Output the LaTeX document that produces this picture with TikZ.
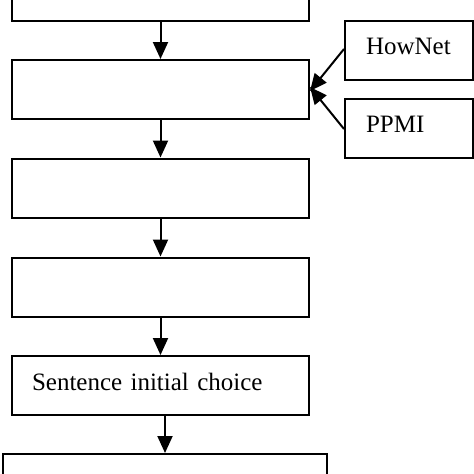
\documentclass[tikz,border=0pt]{standalone}
\usepackage{fontspec}
\setmainfont{Liberation Serif}
\usetikzlibrary{arrows.meta}
\begin{document}
\begin{tikzpicture}[x=1pt,y=-1pt,
  box/.style={draw=black,line width=2pt,fill=white,rectangle,inner sep=0pt,minimum height=59pt,text depth=8pt,font=\fontsize{25}{30}\selectfont},
  flow/.style={line width=2pt,-{Triangle[length=17pt,width=15pt]}}]
\useasboundingbox (0,0) rectangle (474,474);
\clip (0,0) rectangle (474,474);
\fill[white] (0,0) rectangle (474,474);
\node[box,minimum width=297pt] (top) at (160.5,-8.5) {};
\node[box,minimum width=297pt] (b2) at (160.5,89.5) {};
\node[box,minimum width=297pt] (b3) at (160.5,188) {};
\node[box,minimum width=297pt] (b4) at (160.5,287) {};
\node[box,text width=257pt,align=left,inner xsep=20pt] (b5) at (160.5,385.5) {Sentence initial choice};
\node[box,minimum width=324pt] (b6) at (165,483.5) {};
\node[box,text width=86pt,align=left,inner xsep=21pt] (hownet) at (409,50.5) {HowNet};
\node[box,text width=86pt,align=left,inner xsep=21pt] (ppmi) at (409,128.5) {PPMI};
\draw[flow] (top.south) -- (b2.north);
\draw[flow] (b2.south) -- (b3.north);
\draw[flow] (b3.south) -- (b4.north);
\draw[flow] (b4.south) -- (b5.north);
\draw[flow] ([xshift=4.5pt]b5.south) -- (b6.north);
\draw[flow] ([yshift=1.5pt]hownet.west) -- ([yshift=-1.5pt]b2.east);
\draw[flow] ([yshift=-0.5pt]ppmi.west) -- ([yshift=2.5pt]b2.east);
\end{tikzpicture}
\end{document}
